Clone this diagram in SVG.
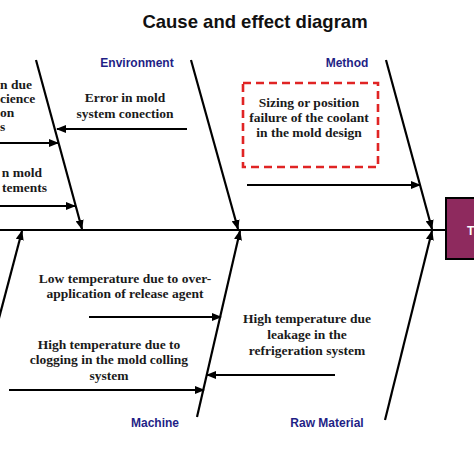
<svg xmlns="http://www.w3.org/2000/svg" width="474" height="474" viewBox="0 0 474 474">
<style>
.title{font-family:"Liberation Sans",Arial,sans-serif;font-weight:bold;font-size:18.5px;fill:#111}
.cat{font-family:"Liberation Sans",Arial,sans-serif;font-weight:bold;font-size:12px;fill:#1f1f86}
.cause{font-family:"Liberation Serif","Times New Roman",serif;font-weight:bold;font-size:13.5px;fill:#1a1a1a}
.ln{stroke:#000;stroke-width:2.2;fill:none}
.ar{stroke:#000;stroke-width:2.2;fill:none;marker-end:url(#ah)}
</style>
<defs>
<marker id="ah" markerWidth="10" markerHeight="8" refX="9" refY="4" orient="auto" markerUnits="userSpaceOnUse">
<path d="M0,0 L10,4 L0,8 Z" fill="#000"/>
</marker>
</defs>
<rect width="474" height="474" fill="#fff"/>
<text class="title" x="255" y="28" text-anchor="middle">Cause and effect diagram</text>

<g id="connectors">
<line class="ln" x1="0" y1="230" x2="446" y2="230"/>
<line class="ar" x1="36" y1="60" x2="82" y2="229"/>
<line class="ar" x1="191" y1="60" x2="238" y2="229"/>
<line class="ar" x1="386" y1="60" x2="432" y2="229"/>
<line class="ar" x1="-2" y1="322" x2="22" y2="231"/>
<line class="ar" x1="197" y1="417" x2="240" y2="231"/>
<line class="ar" x1="385" y1="420" x2="432" y2="231"/>
<line class="ar" x1="0" y1="143" x2="58" y2="143"/>
<line class="ar" x1="0" y1="206" x2="75" y2="206"/>
<line class="ar" x1="187" y1="129" x2="57" y2="129"/>
<line class="ar" x1="247" y1="185" x2="420" y2="185"/>
<line class="ar" x1="89" y1="317" x2="221" y2="317"/>
<line class="ar" x1="9" y1="390" x2="204" y2="390"/>
<line class="ar" x1="335" y1="375" x2="207" y2="375"/>
</g>

<g id="effect">
<rect x="446" y="198" width="32" height="61" fill="#8e2a5e" stroke="#000" stroke-width="2"/>
<text x="467" y="235" font-family="Liberation Sans,Arial,sans-serif" font-weight="bold" font-size="12" fill="#fff">T</text>
</g>

<g id="cat-environment"><text class="cat" x="137" y="67" text-anchor="middle">Environment</text></g>
<g id="cat-method"><text class="cat" x="347" y="67" text-anchor="middle">Method</text></g>
<g id="cat-machine"><text class="cat" x="155" y="427" text-anchor="middle">Machine</text></g>
<g id="cat-raw"><text class="cat" x="327" y="427" text-anchor="middle">Raw Material</text></g>

<g id="cause-topleft">
<text class="cause" x="0" y="89">n due</text>
<text class="cause" x="0" y="103">cience</text>
<text class="cause" x="0" y="117">on</text>
<text class="cause" x="0" y="131">s</text>
</g>
<g id="cause-leftmold">
<text class="cause" x="42" y="177" text-anchor="end">n mold</text>
<text class="cause" x="47" y="192" text-anchor="end">tements</text>
</g>
<g id="cause-env">
<text class="cause" x="125" y="102" text-anchor="middle">Error in mold</text>
<text class="cause" x="125" y="118" text-anchor="middle">system conection</text>
</g>
<g id="cause-method">
<rect x="243" y="83" width="135" height="84" fill="none" stroke="#e02424" stroke-width="2.6" stroke-dasharray="8,5"/>
<text class="cause" x="309" y="107" text-anchor="middle">Sizing or position</text>
<text class="cause" x="309" y="122" text-anchor="middle">failure of the coolant</text>
<text class="cause" x="309" y="137" text-anchor="middle">in the mold design</text>
</g>
<g id="cause-low">
<text class="cause" x="125" y="283" text-anchor="middle">Low temperature due to over-</text>
<text class="cause" x="125" y="298" text-anchor="middle">application of release agent</text>
</g>
<g id="cause-clog">
<text class="cause" x="109" y="349" text-anchor="middle">High temperature due to</text>
<text class="cause" x="109" y="364" text-anchor="middle">clogging in the mold colling</text>
<text class="cause" x="109" y="380" text-anchor="middle">system</text>
</g>
<g id="cause-leak">
<text class="cause" x="307" y="323" text-anchor="middle">High temperature due</text>
<text class="cause" x="307" y="339" text-anchor="middle">leakage in the</text>
<text class="cause" x="307" y="355" text-anchor="middle">refrigeration system</text>
</g>
</svg>
